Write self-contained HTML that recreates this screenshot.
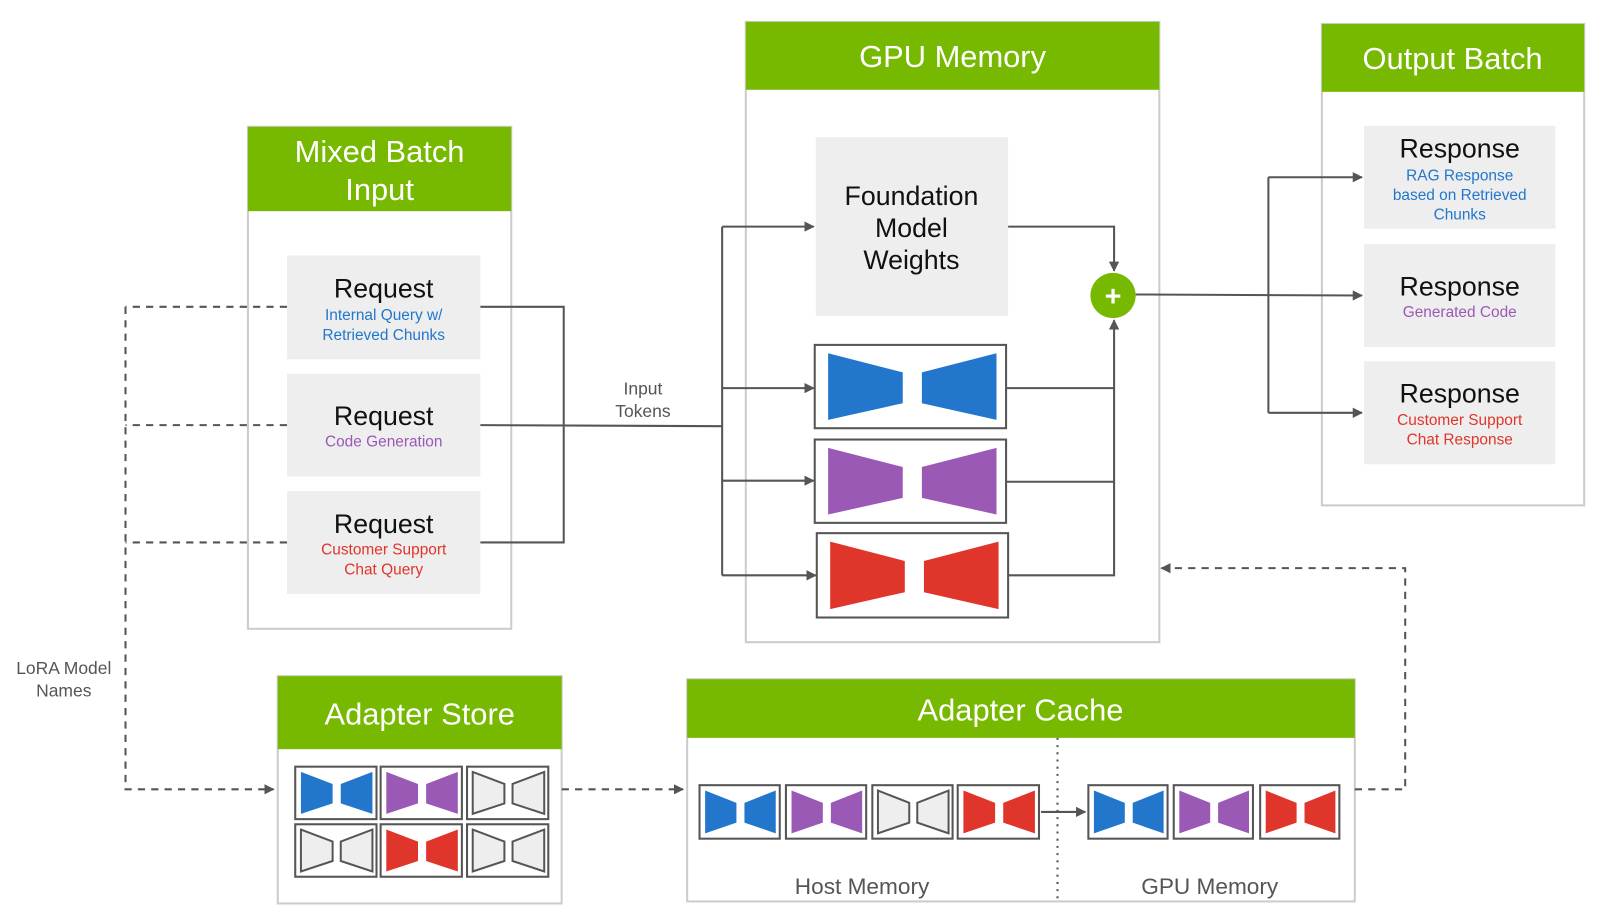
<!DOCTYPE html>
<html><head><meta charset="utf-8"><style>
html,body{margin:0;padding:0;background:#fff;width:1613px;height:912px;overflow:hidden}
svg{display:block;font-family:"Liberation Sans",sans-serif}
.t{fill:#fff;font-size:30px;text-anchor:middle}
.r{fill:#111;font-size:26px;text-anchor:middle}
.s{font-size:15px;text-anchor:middle}
.ln{stroke:#555;stroke-width:2;fill:none}
.ds{stroke:#555;stroke-width:2;fill:none;stroke-dasharray:7 6}
.cell{fill:#fff;stroke:#555;stroke-width:2}
.gb{fill:#fff;stroke:#ccc;stroke-width:2}
</style></head><body>
<svg width="1613" height="912" viewBox="0 0 1568 886" xmlns="http://www.w3.org/2000/svg">
<defs>
<marker id="a" markerWidth="10" markerHeight="10" refX="9" refY="5" orient="auto" markerUnits="userSpaceOnUse" viewBox="0 0 10 10"><path d="M0,0 L10,5 L0,10 z" fill="#555"/></marker>
<symbol id="bt" viewBox="0 0 100 100" preserveAspectRatio="none"><polygon points="7,10 46,33 46,70 7,90"/><polygon points="56,33 95,10 95,90 56,70"/></symbol>
<symbol id="bg" viewBox="0 0 100 100" preserveAspectRatio="none"><polygon points="7,10 46,33 46,70 7,90" fill="#eee" stroke="#555" stroke-width="2" vector-effect="non-scaling-stroke"/><polygon points="56,33 95,10 95,90 56,70" fill="#eee" stroke="#555" stroke-width="2" vector-effect="non-scaling-stroke"/></symbol>
</defs>

<!-- Output Batch (drawn first so arrows show on top) -->
<rect class="gb" x="1285" y="23" width="255" height="468"/>
<rect x="1285" y="23" width="255" height="66" fill="#76b900"/>
<text class="t" x="1412" y="67">Output Batch</text>
<rect x="1326" y="122" width="186" height="100" fill="#eeeeee"/>
<rect x="1326" y="237" width="186" height="100" fill="#eeeeee"/>
<rect x="1326" y="351" width="186" height="100" fill="#eeeeee"/>
<text class="r" x="1419" y="153">Response</text>
<text class="s" x="1419" y="175" fill="#2277cc">RAG Response</text>
<text class="s" x="1419" y="194" fill="#2277cc">based on Retrieved</text>
<text class="s" x="1419" y="213" fill="#2277cc">Chunks</text>
<text class="r" x="1419" y="287">Response</text>
<text class="s" x="1419" y="308" fill="#9b59b6">Generated Code</text>
<text class="r" x="1419" y="391">Response</text>
<text class="s" x="1419" y="413" fill="#e0352b">Customer Support</text>
<text class="s" x="1419" y="432" fill="#e0352b">Chat Response</text>

<!-- Mixed Batch Input -->
<rect class="gb" x="241" y="123" width="256" height="488"/>
<rect x="241" y="123" width="256" height="82" fill="#76b900"/>
<text class="t" x="369" y="157">Mixed Batch</text>
<text class="t" x="369" y="194">Input</text>
<rect x="279" y="248" width="188" height="101" fill="#eeeeee"/>
<rect x="279" y="363" width="188" height="100" fill="#eeeeee"/>
<rect x="279" y="477" width="188" height="100" fill="#eeeeee"/>
<text class="r" x="373" y="289">Request</text>
<text class="s" x="373" y="311" fill="#2277cc">Internal Query w/</text>
<text class="s" x="373" y="330" fill="#2277cc">Retrieved Chunks</text>
<text class="r" x="373" y="413">Request</text>
<text class="s" x="373" y="434" fill="#9b59b6">Code Generation</text>
<text class="r" x="373" y="518">Request</text>
<text class="s" x="373" y="539" fill="#e0352b">Customer Support</text>
<text class="s" x="373" y="558" fill="#e0352b">Chat Query</text>

<!-- GPU Memory -->
<rect class="gb" x="725" y="21" width="402" height="603"/>
<rect x="725" y="21" width="402" height="66" fill="#76b900"/>
<text class="t" x="926" y="65">GPU Memory</text>
<rect x="793" y="133" width="187" height="174" fill="#eeeeee"/>
<text class="r" x="886" y="199">Foundation</text>
<text class="r" x="886" y="230">Model</text>
<text class="r" x="886" y="261">Weights</text>
<rect class="cell" x="792" y="335" width="186" height="81"/>
<use href="#bt" x="792" y="335" width="186" height="81" fill="#2277cc"/>
<rect class="cell" x="792" y="427" width="186" height="81"/>
<use href="#bt" x="792" y="427" width="186" height="81" fill="#9b59b6"/>
<rect class="cell" x="794" y="518" width="186" height="82"/>
<use href="#bt" x="794" y="518" width="186" height="82" fill="#e0352b"/>
<circle cx="1082" cy="287" r="22" fill="#76b900"/>
<text x="1082" y="297" fill="#fff" font-size="28" font-weight="bold" text-anchor="middle">+</text>

<!-- internal lines -->
<path class="ln" d="M980,220 H1083 V263" marker-end="url(#a)"/>
<path class="ln" d="M978,377 H1083 M978,468 H1083 M980,559 H1083 V311" marker-end="url(#a)"/>
<path class="ln" d="M467,298 H548 V527 H467 M467,413 L702,414"/>
<path class="ln" d="M702,220 V559"/>
<path class="ln" d="M702,220 H791" marker-end="url(#a)"/>
<path class="ln" d="M702,377 H791" marker-end="url(#a)"/>
<path class="ln" d="M702,467 H791" marker-end="url(#a)"/>
<path class="ln" d="M702,559 H793" marker-end="url(#a)"/>
<text x="625" y="383" fill="#555" font-size="17" text-anchor="middle">Input</text>
<text x="625" y="405" fill="#555" font-size="17" text-anchor="middle">Tokens</text>

<!-- output lines -->
<path class="ln" d="M1104,286 L1324,287" marker-end="url(#a)"/>
<path class="ln" d="M1233,172 V401"/>
<path class="ln" d="M1233,172 H1324" marker-end="url(#a)"/>
<path class="ln" d="M1233,401 H1324" marker-end="url(#a)"/>

<!-- dashed left -->
<path class="ds" d="M279,298 H122 M279,413 H122 M279,527 H122 M122,298 V767 H266" marker-end="url(#a)"/>
<text x="62" y="655" fill="#555" font-size="17" text-anchor="middle">LoRA Model</text>
<text x="62" y="677" fill="#555" font-size="17" text-anchor="middle">Names</text>

<!-- Adapter Store -->
<rect class="gb" x="270" y="657" width="276" height="221"/>
<rect x="270" y="657" width="276" height="71" fill="#76b900"/>
<text class="t" x="408" y="704">Adapter Store</text>
<rect class="cell" x="287" y="745" width="79" height="51"/><use href="#bt" x="287" y="745" width="79" height="51" fill="#2277cc"/>
<rect class="cell" x="370" y="745" width="79" height="51"/><use href="#bt" x="370" y="745" width="79" height="51" fill="#9b59b6"/>
<rect class="cell" x="454" y="745" width="79" height="51"/><use href="#bg" x="454" y="745" width="79" height="51"/>
<rect class="cell" x="287" y="801" width="79" height="51"/><use href="#bg" x="287" y="801" width="79" height="51"/>
<rect class="cell" x="370" y="801" width="79" height="51"/><use href="#bt" x="370" y="801" width="79" height="51" fill="#e0352b"/>
<rect class="cell" x="454" y="801" width="79" height="51"/><use href="#bg" x="454" y="801" width="79" height="51"/>

<path class="ds" d="M546,767 H664" marker-end="url(#a)"/>

<!-- Adapter Cache -->
<rect class="gb" x="668" y="660" width="649" height="216"/>
<rect x="668" y="660" width="649" height="57" fill="#76b900"/>
<text class="t" x="992" y="700">Adapter Cache</text>
<path d="M1028,717 V876" stroke="#555" stroke-width="2" stroke-dasharray="2 5"/>
<rect class="cell" x="680" y="763" width="78" height="52"/><use href="#bt" x="680" y="763" width="78" height="52" fill="#2277cc"/>
<rect class="cell" x="764" y="763" width="78" height="52"/><use href="#bt" x="764" y="763" width="78" height="52" fill="#9b59b6"/>
<rect class="cell" x="848" y="763" width="78" height="52"/><use href="#bg" x="848" y="763" width="78" height="52"/>
<rect class="cell" x="931" y="763" width="79" height="52"/><use href="#bt" x="931" y="763" width="79" height="52" fill="#e0352b"/>
<path class="ln" d="M1012,789 H1055" marker-end="url(#a)"/>
<rect class="cell" x="1058" y="763" width="77" height="52"/><use href="#bt" x="1058" y="763" width="77" height="52" fill="#2277cc"/>
<rect class="cell" x="1141" y="763" width="77" height="52"/><use href="#bt" x="1141" y="763" width="77" height="52" fill="#9b59b6"/>
<rect class="cell" x="1225" y="763" width="77" height="52"/><use href="#bt" x="1225" y="763" width="77" height="52" fill="#e0352b"/>
<text x="838" y="869" fill="#555" font-size="22" text-anchor="middle">Host Memory</text>
<text x="1176" y="869" fill="#555" font-size="22" text-anchor="middle">GPU Memory</text>

<path class="ds" d="M1317,767 H1366 V552 H1129" marker-end="url(#a)"/>
</svg>
</body></html>
